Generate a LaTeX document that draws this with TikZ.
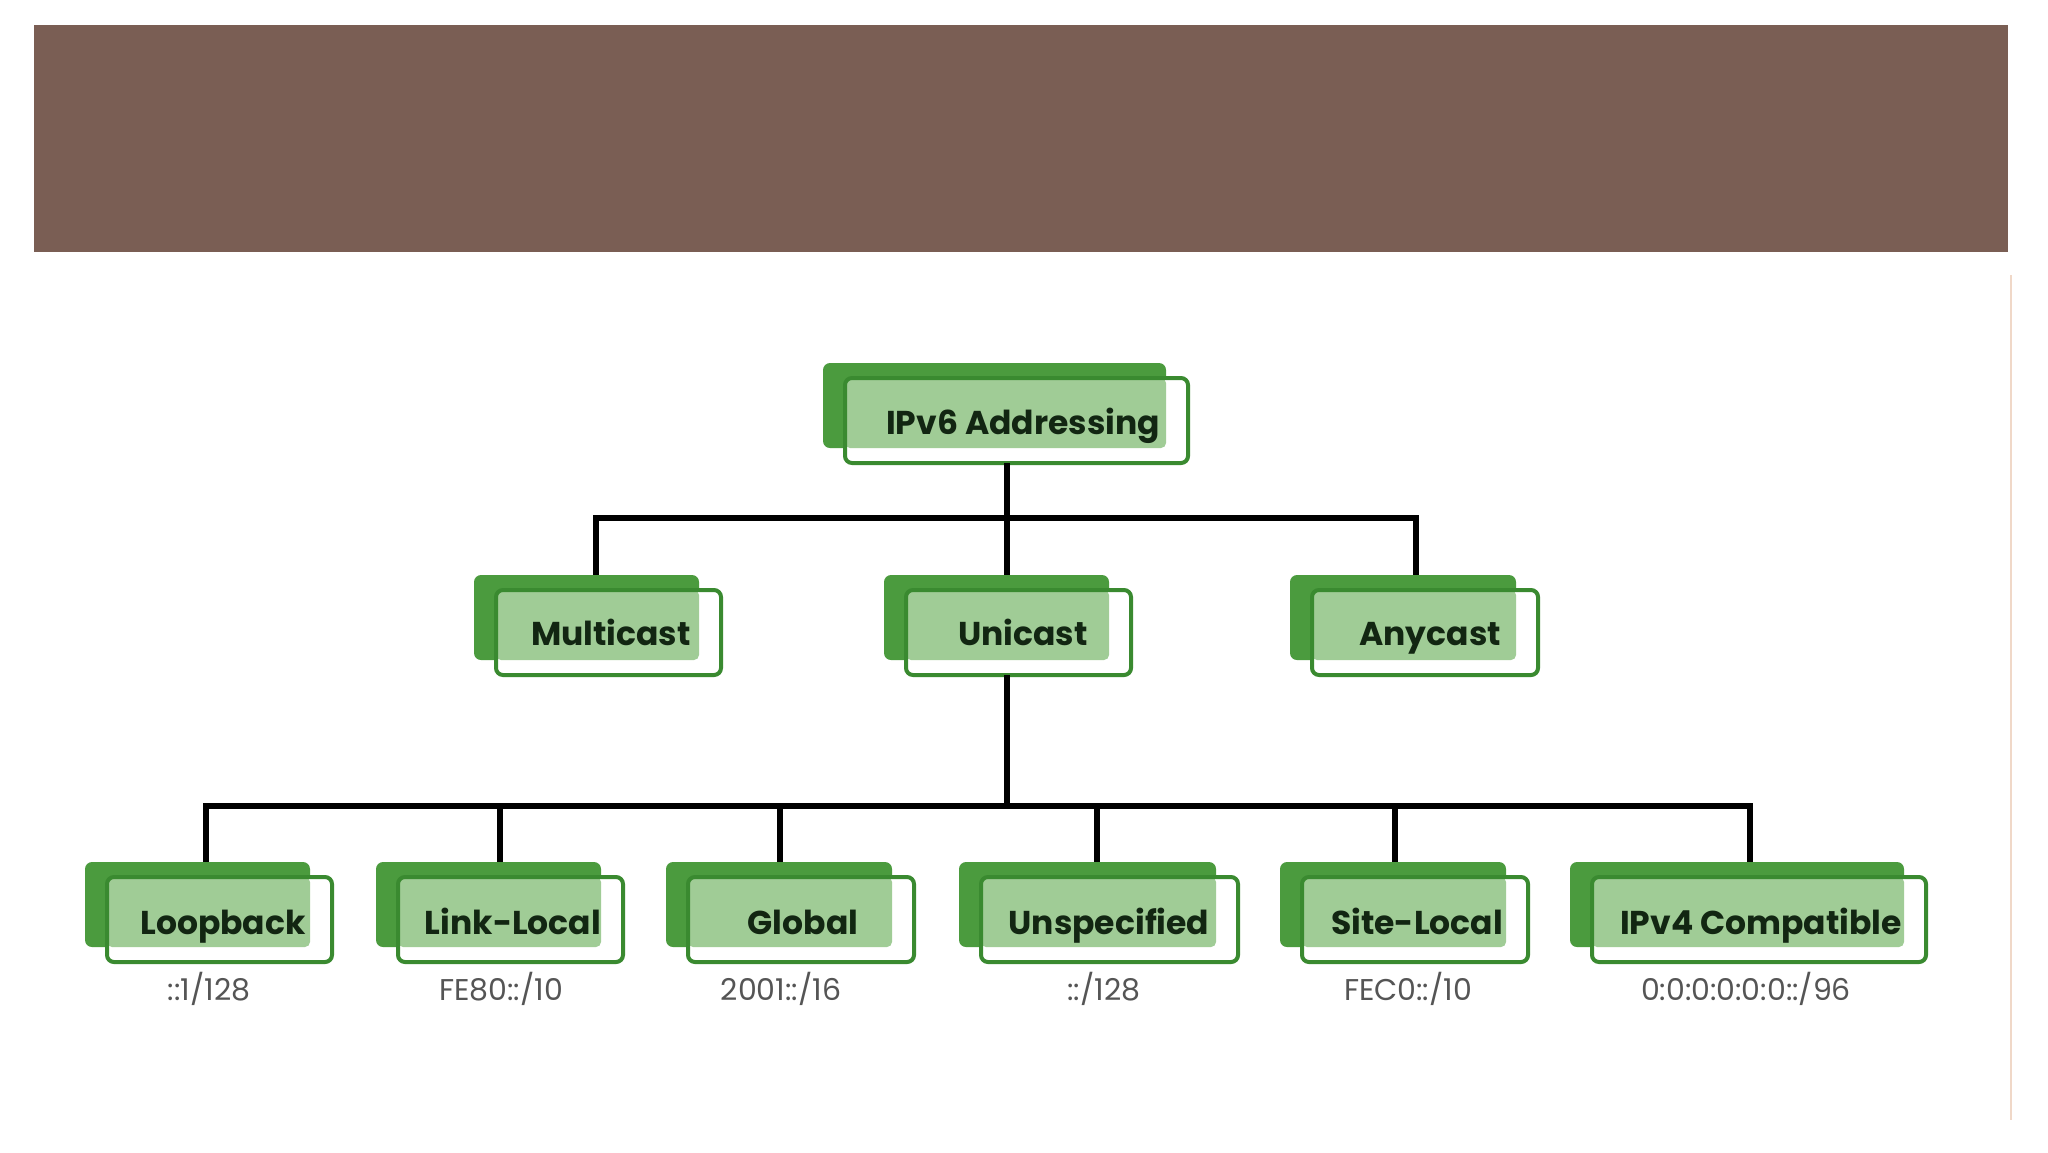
\documentclass[tikz,border=0pt]{standalone}
\usepackage{fontspec}
\setmainfont{Poppins}
\definecolor{hdr}{RGB}{122,94,84}
\definecolor{dkg}{RGB}{75,155,62}
\definecolor{ltg}{RGB}{160,204,150}
\definecolor{brd}{RGB}{58,138,48}
\definecolor{txt}{RGB}{18,38,18}
\definecolor{lbl}{RGB}{85,85,85}
\definecolor{edge}{RGB}{240,216,200}
\tikzset{
  backbox/.style={fill=dkg, rounded corners=7pt, inner sep=0pt, outer sep=0pt, anchor=north west},
  frontbox/.style={fill=white, rounded corners=7pt, inner sep=0pt, outer sep=0pt, anchor=north west},
  frontline/.style={draw=brd, line width=4pt, rounded corners=7pt},
  btext/.style={text=txt, font=\fontsize{33}{40}\selectfont\bfseries, inner sep=0pt, anchor=base},
  ltext/.style={text=lbl, font=\fontsize{30}{36}\selectfont, inner sep=0pt, anchor=base},
  conn/.style={draw=black, line width=6pt},
}
% #1 name, #2 x, #3 y (back top-left), #4 width, #5 height
\newcommand\gbox[5]{%
  \node[backbox, name=#1b, minimum width=#4pt, minimum height=#5pt] at (#2,#3) {};
  \node[frontbox, name=#1, minimum width=#4pt, minimum height=#5pt] at (#2+22,#3+15) {};
  \fill[ltg, rounded corners=5pt] (#1.north west) rectangle (#1b.south east);
  \draw[frontline] (#1.north west) rectangle (#1.south east);
}
\begin{document}
\begin{tikzpicture}[x=1pt,y=-1pt]
\useasboundingbox (0,0) rectangle (2048,1152);
\fill[white] (0,0) rectangle (2048,1152);
% header band
\fill[hdr] (34,25) rectangle (2008,252);
% thin right edge line
\draw[edge, line width=2pt] (2011,275) -- (2011,1120);

% boxes
\gbox{top}{823}{363}{343}{85}
\gbox{mul}{474}{575}{225}{85}
\gbox{uni}{884}{575}{225}{85}
\gbox{any}{1290}{575}{226}{85}
\gbox{loop}{85}{862}{225}{85}
\gbox{link}{376}{862}{225}{85}
\gbox{glob}{666}{862}{226}{85}
\gbox{unsp}{959}{862}{257}{85}
\gbox{site}{1280}{862}{226}{85}
\gbox{ipv}{1570}{862}{334}{85}

% box texts (anchored at baseline)
\node[btext] (topt) at (1023,434) {IPv6 Addressing};
\node[btext] (mult) at (611,645) {Multicast};
\node[btext] (unit) at (1023,645) {Unicast};
\node[btext] (anyt) at (1430,645) {Anycast};
\node[btext] (loopt) at (223,934) {Loopback};
\node[btext] (linkt) at (513,934) {Link-Local};
\node[btext] (globt) at (803,934) {Global};
\node[btext] (unspt) at (1109,934) {Unspecified};
\node[btext] (sitet) at (1417,934) {Site-Local};
\node[btext] (ipvt) at (1761,934) {IPv4 Compatible};

% address labels
\node[ltext] (loopl) at (209,1000) {::1/128};
\node[ltext] (linkl) at (501,1000) {FE80::/10};
\node[ltext] (globl) at (781,1000) {2001::/16};
\node[ltext] (unspl) at (1104,1000) {::/128};
\node[ltext] (sitel) at (1408,1000) {FEC0::/10};
\node[ltext] (ipvl) at (1746,1000) {0:0:0:0:0:0::/96};

% connectors level 1
\coordinate (h1) at (1007,518);
\coordinate (c1) at (596,518);
\coordinate (c3) at (1416,518);
\draw[conn] (h1 |- top.south) -- (h1);
\draw[conn, line cap=rect] (c1) -- (c3);
\draw[conn] (c1) -- (c1 |- mulb.north);
\draw[conn] (h1) -- (h1 |- unib.north);
\draw[conn] (c3) -- (c3 |- anyb.north);

% connectors level 2
\coordinate (h2) at (1007,806);
\coordinate (d1) at (206,806);
\coordinate (d2) at (500,806);
\coordinate (d3) at (780,806);
\coordinate (d4) at (1097,806);
\coordinate (d5) at (1395,806);
\coordinate (d6) at (1750,806);
\draw[conn] (h2 |- uni.south) -- (h2);
\draw[conn, line cap=rect] (d1) -- (d6);
\draw[conn] (d1) -- (d1 |- loopb.north);
\draw[conn] (d2) -- (d2 |- linkb.north);
\draw[conn] (d3) -- (d3 |- globb.north);
\draw[conn] (d4) -- (d4 |- unspb.north);
\draw[conn] (d5) -- (d5 |- siteb.north);
\draw[conn] (d6) -- (d6 |- ipvb.north);
\end{tikzpicture}
\end{document}
